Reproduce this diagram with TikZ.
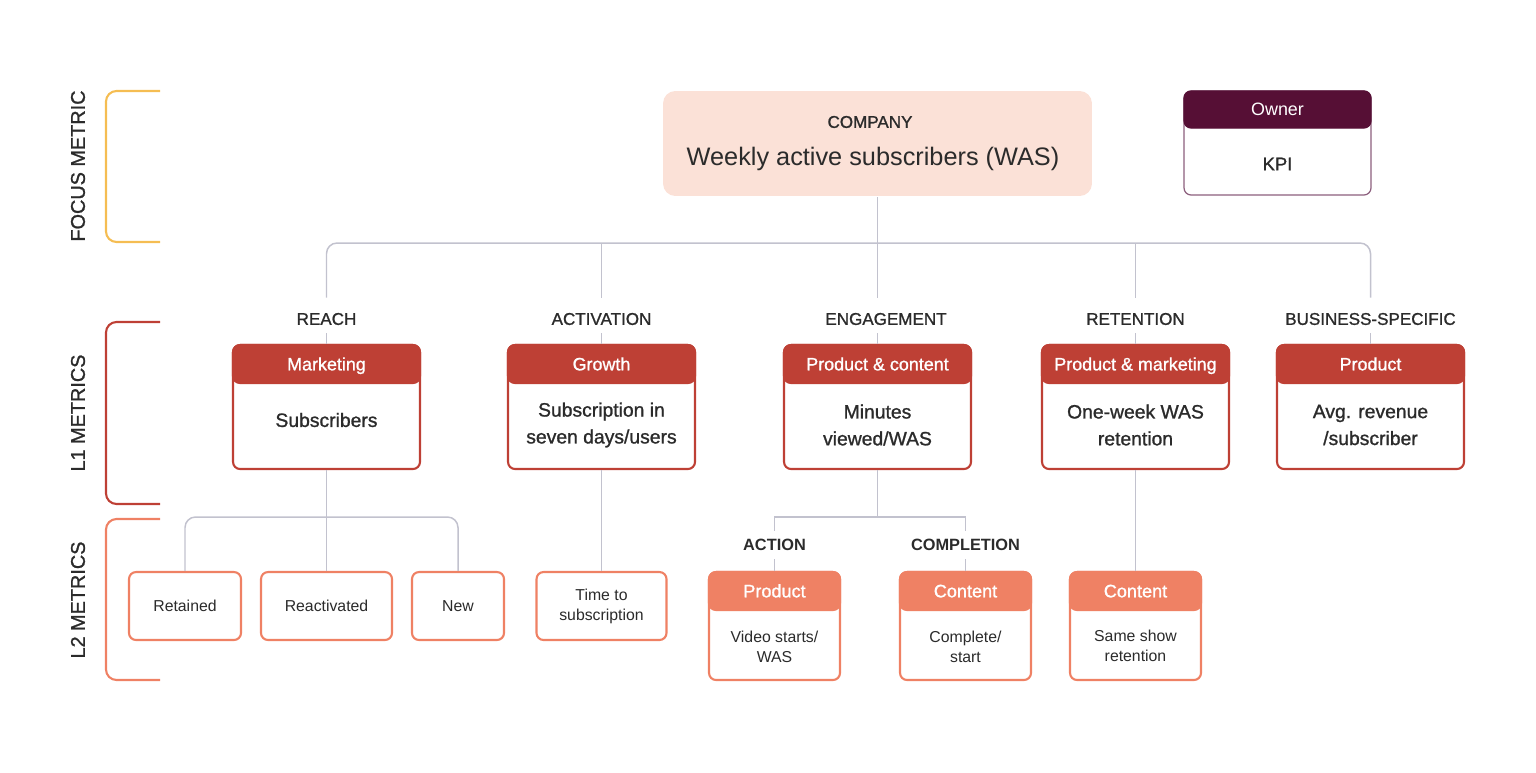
\documentclass[tikz,border=0pt]{standalone}
\usepackage{fontspec}
\setmainfont{Liberation Sans}
\newfontfamily\medfont[FakeBold=1.1]{Liberation Sans}
\usetikzlibrary{positioning}

\definecolor{ink}{HTML}{2B2B2B}
\definecolor{linegray}{HTML}{C2C2CE}
\definecolor{focusyellow}{HTML}{F5BD52}
\definecolor{levelred}{HTML}{BE4035}
\definecolor{levelsalmon}{HTML}{EF8164}
\definecolor{companyfill}{HTML}{FBE1D7}
\definecolor{ownerpurple}{HTML}{560F35}
\definecolor{ownerline}{HTML}{8C5F7D}

\begin{document}
\begin{tikzpicture}[
  x=0.02cm,
  y=-0.02cm,
  line/.style={draw=linegray,line width=0.85pt},
  bracket/.style={line width=1.2pt,rounded corners=6pt},
  sidelabel/.style={rotate=90,text=ink,font=\medfont\fontsize{11.3}{13}\selectfont},
  frame/.style={rounded corners=4pt,line width=1.2pt,fill=white,inner sep=0pt,align=center},
  headbox/.style={frame,minimum height=0.76cm,text=white,text height=0.72em,text depth=0em},
  lonebox/.style={frame,draw=levelred,minimum width=3.74cm,minimum height=2.48cm},
  lonehead/.style={headbox,draw=levelred,fill=levelred,minimum width=3.74cm,font=\medfont\fontsize{10.2}{12}\selectfont},
  lonetext/.style={align=center,text=ink,font=\medfont\fontsize{11}{15.3}\selectfont},
  ltwobox/.style={frame,draw=levelsalmon,minimum height=1.36cm,text=ink,font=\fontsize{9}{11.3}\selectfont},
  ltwotall/.style={ltwobox,minimum width=2.62cm,minimum height=2.16cm},
  ltwohead/.style={headbox,draw=levelsalmon,fill=levelsalmon,minimum width=2.62cm,font=\medfont\fontsize{10.3}{12}\selectfont},
  ltwotext/.style={align=center,text=ink,font=\fontsize{9}{11.3}\selectfont},
  catlabel/.style={text=ink,inner ysep=4.5pt,font=\medfont\fontsize{9.7}{11}\selectfont},
  sublabel/.style={text=ink,inner ysep=4.5pt,font=\bfseries\fontsize{9.3}{11}\selectfont}
]
\useasboundingbox (0,0) rectangle (1536,772);

% Level brackets
\draw[bracket,draw=focusyellow] (160,91) -| (106,242) -- (160,242);
\draw[bracket,draw=levelred] (160,322) -| (106,504) -- (160,504);
\draw[bracket,draw=levelsalmon] (160,519) -| (106,680) -- (160,680);
\node[sidelabel] (focuslbl) at (78,166) {FOCUS METRIC};
\node[sidelabel] (loneslbl) at (78,413) {L1 METRICS};
\node[sidelabel] (ltwoslbl) at (78,600) {L2 METRICS};

% Focus metric
\node[frame,fill=companyfill,rounded corners=7pt,minimum width=8.58cm,minimum height=2.1cm] (company) at (877.5,143.5) {};
\node[text=ink,font=\medfont\fontsize{9.7}{11}\selectfont] (companytag) at (870,122) {COMPANY};
\node[text=ink,font=\fontsize{14.4}{17}\selectfont] (companyname) at (873,159) {Weekly active subscribers (WAS)};

% Legend
\node[frame,draw=ownerline,line width=0.7pt,minimum width=3.74cm,minimum height=2.08cm] (legend) at (1277.5,143) {};
\node[headbox,draw=ownerpurple,fill=ownerpurple,line width=0.7pt,minimum width=3.74cm,minimum height=0.74cm,
  anchor=north,font=\fontsize{10.2}{12}\selectfont] (owner) at (legend.north) {Owner};
\node[text=ink,font=\medfont\fontsize{10.5}{12}\selectfont] (kpi) at (1277.5,164) {KPI};

% L1 categories
\node[catlabel] (reachlbl) at (326.5,319) {REACH};
\node[catlabel] (actlbl) at (601.5,319) {ACTIVATION};
\node[catlabel] (englbl) at (886,319) {ENGAGEMENT};
\node[catlabel] (retlbl) at (1135.5,319) {RETENTION};
\node[catlabel] (bizlbl) at (1370.5,319) {BUSINESS-SPECIFIC};

% L1 metrics
\node[lonebox] (reach) at (326.5,407) {};
\node[lonehead,anchor=north] (reachhd) at (reach.north) {Marketing};
\node[lonetext] (reachtxt) at (326.5,420) {Subscribers};

\node[lonebox] (growth) at (601.5,407) {};
\node[lonehead,anchor=north] (growthhd) at (growth.north) {Growth};
\node[lonetext] (growthtxt) at (601.5,425) {Subscription in\\seven days/users};

\node[lonebox] (eng) at (877.5,407) {};
\node[lonehead,anchor=north] (enghd) at (eng.north) {Product \& content};
\node[lonetext] (engtxt) at (877.5,425) {Minutes\\viewed/WAS};

\node[lonebox] (ret) at (1135.5,407) {};
\node[lonehead,anchor=north] (rethd) at (ret.north) {Product \& marketing};
\node[lonetext] (rettxt) at (1135.5,425) {One-week WAS\\retention};

\node[lonebox] (biz) at (1370.5,407) {};
\node[lonehead,anchor=north] (bizhd) at (biz.north) {Product};
\node[lonetext] (biztxt) at (1370.5,425) {Avg. revenue\\/subscriber};

% L2 metrics
\node[ltwobox,minimum width=2.24cm] (retained) at (185,606) {Retained};
\node[ltwobox,minimum width=2.62cm] (reactivated) at (326.5,606) {Reactivated};
\node[ltwobox,minimum width=1.84cm] (new) at (458,606) {New};
\node[ltwobox,minimum width=2.6cm] (timesub) at (601.5,606) {Time to\\subscription};

\node[sublabel] (actionlbl) at (774.5,545) {ACTION};
\node[sublabel] (complbl) at (965.5,545) {COMPLETION};

\node[ltwotall] (videostarts) at (774.5,626) {};
\node[ltwohead,anchor=north] (videohd) at (videostarts.north) {Product};
\node[ltwotext] (videotxt) at (774.5,647) {Video starts/\\WAS};

\node[ltwotall] (complete) at (965.5,626) {};
\node[ltwohead,anchor=north] (completehd) at (complete.north) {Content};
\node[ltwotext] (completetxt) at (965.5,647) {Complete/\\start};

\node[ltwotall] (sameshow) at (1135.5,626) {};
\node[ltwohead,anchor=north] (sameshowhd) at (sameshow.north) {Content};
\node[ltwotext] (sameshowtxt) at (1135.5,646) {Same show\\retention};

% Tree connectors
\coordinate (hub) at (877.5,243);
\draw[line,shorten >=4pt] (company.south) -- (company.south |- englbl.north);
\draw[line,rounded corners=6pt,shorten <=4pt,shorten >=4pt] (reachlbl.north) |- (hub) -| (bizlbl.north);
\draw[line,shorten >=4pt] (actlbl.north |- hub) -- (actlbl.north);
\draw[line,shorten >=4pt] (retlbl.north |- hub) -- (retlbl.north);

\draw[line] (reachlbl.south) -- (reach.north);
\draw[line] (actlbl.south) -- (growth.north);
\draw[line] (eng.north |- englbl.south) -- (eng.north);
\draw[line] (retlbl.south) -- (ret.north);
\draw[line] (bizlbl.south) -- (biz.north);

\coordinate (reachsplit) at (326.5,517);
\draw[line] (reach.south) -- (reactivated.north);
\draw[line,rounded corners=6pt] (retained.north) |- (reachsplit) -| (new.north);
\draw[line] (growth.south) -- (timesub.north);

\coordinate (engsplit) at (877.5,517);
\draw[line] (eng.south) -- (engsplit);
\draw[line] (actionlbl.north) |- (engsplit) -| (complbl.north);
\draw[line] (actionlbl.south) -- (videostarts.north);
\draw[line] (complbl.south) -- (complete.north);
\draw[line] (ret.south) -- (sameshow.north);

\end{tikzpicture}
\end{document}
